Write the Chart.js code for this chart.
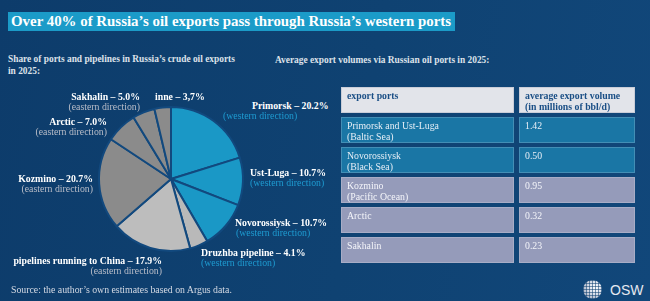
<!DOCTYPE html>
<html>
<head>
<meta charset="utf-8">
<script src="https://cdn.jsdelivr.net/npm/chart.js@4.4.1/dist/chart.umd.min.js"></script>
<style>
  html, body { margin: 0; padding: 0; }
  body {
    width: 650px; height: 301px; overflow: hidden; position: relative;
    background: linear-gradient(100deg, #0d3c6b 0%, #0f4272 55%, #11477a 100%);
    font-family: "Liberation Serif", serif;
  }
  .abs { position: absolute; white-space: nowrap; }
  #title {
    left: 8px; top: 12px; height: 19px; line-height: 19px;
    padding: 0 4px 0 3px; background: #1b9bc8; color: #fff;
    font-weight: bold; font-size: 14.9px;
  }
  .sub { color: #dde2ea; font-weight: bold; font-size: 9.4px; line-height: 12px; }
  #pieWrap { position: absolute; left: 91px; top: 99px; width: 160px; height: 160px; }
  .lbl { font-size: 9.8px; line-height: 10px; }
  .lbl.name { color: #fff; font-weight: bold; }
  .lbl.east { color: #b9bdc8; }
  .lbl.west { color: #1e9bd1; }
  #tbl { position: absolute; left: 336px; top: 83px; border-collapse: separate; border-spacing: 5px 4px; }
  #tbl td {
    padding: 2px 5px 0 5px; height: 26px; vertical-align: top;
    font-size: 9.8px; line-height: 11px; box-sizing: border-box;
    border: 1px solid rgba(255,255,255,0.18);
  }
  #tbl td.c1 { width: 173px; }
  #tbl td.c2 { width: 116px; }
  #tbl tr.head td { background: #e2e4ea; color: #1b4f86; font-weight: bold; border-color: #c9cdd8; }
  #tbl tr.west td { background: #1a76a5; color: #e6eef6; }
  #tbl tr.east td { background: #959bba; color: #f4f5fa; }
  #source { left: 11px; top: 284px; color: #d5dae4; font-size: 9.8px; line-height: 12px; }
  #globe {
    position: absolute; left: 583px; top: 280px; width: 19px; height: 19px; border-radius: 50%;
    background:
      repeating-linear-gradient(0deg, rgba(16,66,114,0.55) 0 1px, transparent 1px 3px),
      repeating-linear-gradient(90deg, rgba(16,66,114,0.55) 0 1px, transparent 1px 3px),
      radial-gradient(circle at 65% 40%, #ffffff 0%, #dfe4ee 35%, #8b97ad 100%);
  }
  #osw { left: 610px; top: 282px; color: #e4e8f0; font-family: "Liberation Sans", sans-serif; font-size: 14px; line-height: 16px; }
</style>
</head>
<body>
<div id="title" class="abs">Over 40% of Russia’s oil exports pass through Russia’s western ports</div>
<div class="abs sub" style="left:8px; top:53px;">Share of ports and pipelines in Russia’s crude oil exports<br>in 2025:</div>
<div class="abs sub" style="left:275px; top:54px;">Average export volumes via Russian oil ports in 2025:</div>

<div id="pieWrap"><canvas id="pie" width="160" height="160"></canvas></div>
<div id="labels"></div>

<table id="tbl"><tbody id="tbody"></tbody></table>

<div id="source" class="abs">Source: the author’s own estimates based on Argus data.</div>
<div id="globe"></div>
<div id="osw" class="abs">OSW</div>

<script>
// pie data (clockwise from 12 o'clock)
var sliceNames = ['Primorsk', 'Ust-Luga', 'Novorossiysk', 'Druzhba pipeline', 'pipelines running to China', 'Kozmino', 'Arctic', 'Sakhalin', 'inne'];
var sliceValues = [20.2, 10.7, 10.7, 4.1, 17.9, 20.7, 7.0, 5.0, 3.7];
var sliceText = ['20.2%', '10.7%', '10.7%', '4.1%', '17.9%', '20.7%', '7.0%', '5.0%', '3,7%'];
var sliceDirection = ['western', 'western', 'western', 'western', 'eastern', 'eastern', 'eastern', 'eastern', ''];

// table data
var tablePorts = [['Primorsk and Ust-Luga', '(Baltic Sea)'], ['Novorossiysk', '(Black Sea)'], ['Kozmino', '(Pacific Ocean)'], ['Arctic'], ['Sakhalin']];
var tableVolumes = ['1.42', '0.50', '0.95', '0.32', '0.23'];
var tableSide = ['west', 'west', 'east', 'east', 'east'];

var sliceColors = ['#1a98c6', '#1a98c6', '#1a98c6', '#b9b9b9', '#bdbdbd', '#8b8b8b', '#8b8b8b', '#8b8b8b', '#8b8b8b'];

var pie = new Chart(document.getElementById('pie').getContext('2d'), {
    type: 'pie',
    data: {
        labels: sliceNames,
        datasets: [{
            data: sliceValues,
            backgroundColor: sliceColors,
            borderColor: '#12497e',
            borderWidth: 2
        }]
    },
    options: {
        responsive: false,
        animation: false,
        radius: 72,
        plugins: { legend: { display: false }, tooltip: { enabled: false } }
    }
});

// label placement: [x, y of first line, align]; second line [x, y, align]
var labelPos = [
    [[252, 106, 'left'], [223, 116, 'left']],
    [[250, 173, 'left'], [250, 183, 'left']],
    [[235, 223, 'left'], [236, 233, 'left']],
    [[201, 253, 'left'], [201, 263, 'left']],
    [[162, 261, 'right'], [162, 271, 'right']],
    [[93, 179, 'right'], [93, 189, 'right']],
    [[107, 122, 'right'], [107, 132, 'right']],
    [[140, 97, 'right'], [140, 107, 'right']],
    [[155, 97, 'left'], null]
];

function place(text, cls, pos) {
    var d = document.createElement('div');
    d.className = 'abs lbl ' + cls;
    d.textContent = text;
    d.style.top = (pos[1] - 5) + 'px';
    if (pos[2] == 'right') {
        d.style.right = (650 - pos[0]) + 'px';
    } else {
        d.style.left = pos[0] + 'px';
    }
    document.getElementById('labels').appendChild(d);
}

for (var i = 0; i < sliceNames.length; i++) {
    place(sliceNames[i] + ' – ' + sliceText[i], 'name', labelPos[i][0]);
    if (sliceDirection[i] && labelPos[i][1]) {
        place('(' + sliceDirection[i] + ' direction)', sliceDirection[i] == 'western' ? 'west' : 'east', labelPos[i][1]);
    }
}

// table
var tb = document.getElementById('tbody');
var head = document.createElement('tr');
head.className = 'head';
head.innerHTML = '<td class="c1">export ports</td><td class="c2">average export volume<br>(in millions of bbl/d)</td>';
tb.appendChild(head);
for (var j = 0; j < tablePorts.length; j++) {
    var tr = document.createElement('tr');
    tr.className = tableSide[j];
    tr.innerHTML = '<td class="c1">' + tablePorts[j].join('<br>') + '</td><td class="c2">' + tableVolumes[j] + '</td>';
    tb.appendChild(tr);
}
</script>
</body>
</html>
